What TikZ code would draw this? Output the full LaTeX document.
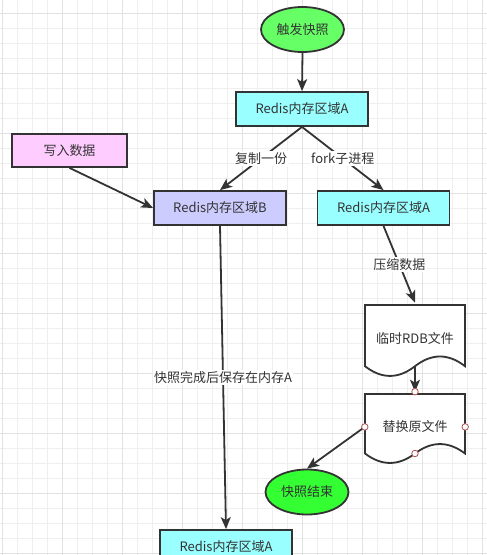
\documentclass[tikz,border=0pt]{standalone}
\usepackage{fontspec}
\setmainfont{Noto Sans CJK SC}
\usetikzlibrary{arrows.meta,shapes.geometric}

\definecolor{lineGray}{HTML}{333333}
\definecolor{memCyan}{HTML}{99FFFF}
\definecolor{memViolet}{HTML}{CCCCFF}
\definecolor{writePink}{HTML}{FFCCFF}
\definecolor{startGreen}{HTML}{66FF66}
\definecolor{endGreen}{HTML}{33FF33}
\definecolor{gridMinor}{HTML}{EFEFEF}
\definecolor{gridMajor}{HTML}{E2E2E2}
\definecolor{hookRed}{HTML}{B05050}

\tikzset{
  membox/.style={draw=lineGray, line width=1.8pt, minimum width=132pt,
    minimum height=34pt, inner sep=0pt, text=lineGray,
    font=\fontsize{13}{15}\selectfont},
  snapoval/.style={ellipse, draw=lineGray, line width=1.8pt, minimum width=83pt,
    minimum height=45pt, inner sep=0pt, text=lineGray,
    font=\fontsize{13}{15}\selectfont},
  docbox/.style={inner sep=0pt, text=lineGray, font=\fontsize{13}{15}\selectfont},
  docline/.style={draw=lineGray, line width=1.8pt, fill=white},
  flow/.style={draw=lineGray, line width=1.8pt,
    -{Stealth[length=12pt,width=10pt,inset=3pt]}},
  flowlabel/.style={fill=white, inner sep=1.5pt, text=lineGray,
    font=\fontsize{13}{15}\selectfont},
  hookpt/.style={circle, draw=hookRed, fill=white, line width=0.8pt,
    minimum size=6.5pt, inner sep=0pt}
}

% document shape: name, left, top, width, height, text
\newcommand{\rdbdoc}[6]{%
  \draw[docline] (#2,#3) -- ({#2+#4},#3) -- ({#2+#4},{#3+0.85*#5})
    .. controls ({#2+0.8333*#4},{#3+0.67*#5}) and ({#2+0.6667*#4},{#3+0.67*#5})
    .. ({#2+0.5*#4},{#3+0.85*#5})
    .. controls ({#2+0.3333*#4},{#3+1.03*#5}) and ({#2+0.1667*#4},{#3+1.03*#5})
    .. (#2,{#3+0.85*#5}) -- cycle;
  \node[docbox, minimum width=#4pt, minimum height=#5pt] (#1)
    at ({#2+0.5*#4},{#3+0.47*#5}) {#6};
  \coordinate (#1-wave) at ({#2+0.5*#4},{#3+0.85*#5});
}

\begin{document}
\begin{tikzpicture}[x=1pt,y=-1pt]
\useasboundingbox[fill=white] (0,0) rectangle (487,555);

% background grid
\foreach \gx in {2.5,17.5,...,487} \draw[gridMinor, line width=0.8pt] (\gx,0) -- (\gx,555);
\foreach \gy in {13.3,28.3,...,555} \draw[gridMinor, line width=0.8pt] (0,\gy) -- (487,\gy);
\foreach \gx in {2.5,62.5,...,487} \draw[gridMajor, line width=0.8pt] (\gx,0) -- (\gx,555);
\foreach \gy in {13.3,73.3,...,555} \draw[gridMajor, line width=0.8pt] (0,\gy) -- (487,\gy);

\node[snapoval, fill=startGreen] (start) at (302.5,29.5) {触发快照};
\node[membox, fill=memCyan] (memA) at (302,109) {Redis内存区域A};
\node[membox, fill=writePink, minimum width=115pt, minimum height=33pt] (write) at (69.5,150.5) {写入数据};
\node[membox, fill=memViolet] (memB) at (220,208) {Redis内存区域B};
\node[membox, fill=memCyan] (forkA) at (383.5,208) {Redis内存区域A};
\node[membox, fill=memCyan] (saveA) at (226,547) {Redis内存区域A};

\rdbdoc{tmpdoc}{365}{305}{100}{72}{临时RDB文件}
\rdbdoc{repl}{365}{394}{100}{70}{替换原文件}

\node[snapoval, fill=endGreen] (finish) at (307,492) {快照结束};

\draw[flow] (start.south) -- (memA.north);
\draw[flow] (memA.south) -- (memB.north) node[flowlabel, midway] {复制一份};
\draw[flow] (memA.south) -- (forkA.north) node[flowlabel, midway] {fork子进程};
\draw[flow] (write.south) -- (memB.west);
\draw[flow] (memB.south) -- (saveA.north) node[flowlabel, midway] {快照完成后保存在内存A};
\draw[flow] (forkA.south) -- (tmpdoc.north) node[flowlabel, midway] {压缩数据};
\draw[flow] (tmpdoc-wave) -- (repl.north);
\draw[flow] (repl.west) -- (finish.north);

% connection points of the selected shape
\node[hookpt] (replN) at (repl.north) {};
\node[hookpt] (replW) at (repl.west) {};
\node[hookpt] (replE) at (repl.east) {};
\node[hookpt] (replS) at (repl-wave) {};
\end{tikzpicture}
\end{document}
